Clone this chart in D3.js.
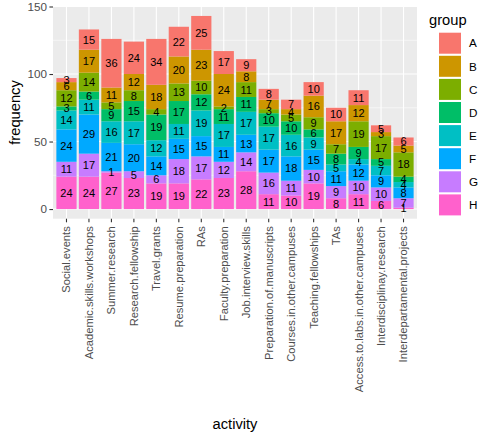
<!DOCTYPE html>
<html>
<head>
<meta charset="utf-8">
<script src="https://cdn.jsdelivr.net/npm/d3@7"></script>
<style>
  body { margin: 0; background: #fff; }
  text { font-family: "Liberation Sans", Arial, sans-serif; }
</style>
</head>
<body>
<svg width="493" height="438"></svg>
<script>
// categories on the x axis
const activities = ["Social.events", "Academic.skills.workshops", "Summer.research",
  "Research.fellowship", "Travel.grants", "Resume.preparation", "RAs",
  "Faculty.preparation", "Job.interview.skills", "Preparation.of.manuscripts",
  "Courses.in.other.campuses", "Teaching.fellowships", "TAs",
  "Access.to.labs.in.other.campuses", "Interdisciplinay.research",
  "Interdepartamental.projects"];

const groups = ["A", "B", "C", "D", "E", "F", "G", "H"];

// one array per group, in the order of activities
const A = [3, 15, 36, 24, 34, 22, 25, 17, 9, 8, 7, 10, 10, 11, 5, 6];
const B = [6, 17, 11, 12, 18, 20, 23, 24, 8, 7, 4, 16, 17, 12, 3, 5];
const C = [12, 14, 5, 8, 4, 13, 10, 2, 11, 3, 5, 9, 7, 19, 17, 18];
const D = [3, 6, 9, 15, 19, 17, 12, 11, 11, 10, 10, 6, 8, 9, 5, 4];
const E = [14, 11, 16, 17, 12, 11, 19, 17, 17, 17, 16, 9, 5, 4, 7, 4];
const F = [24, 29, 21, 20, 14, 15, 15, 11, 13, 17, 18, 15, 11, 12, 9, 8];
const G = [11, 17, 1, 5, 6, 18, 17, 12, 14, 16, 11, 10, 9, 10, 10, 7];
const H = [24, 24, 27, 23, 19, 19, 22, 23, 28, 11, 10, 19, 8, 11, 6, 1];

const yTicks = [0, 50, 100, 150];
const yMinor = [25, 75, 125];

const colors = ["#F8766D", "#CD9600", "#7CAE00", "#00BE67", "#00BFC4", "#00A9FF", "#C77CFF", "#FF61CC"];

// table for the stack
const series = {A, B, C, D, E, F, G, H};
const rows = activities.map((a, i) => {
  const r = {activity: a};
  groups.forEach(g => r[g] = series[g][i]);
  return r;
});

// H at the bottom, A on top
const stacked = d3.stack().keys(groups.slice().reverse())(rows);

const svg = d3.select("svg");
const panel = {left: 53, right: 417, top: 6.3, bottom: 218.7};

const maxTotal = d3.max(rows, r => d3.sum(groups, g => r[g]));
const pad = maxTotal * 0.05;

const x = d3.scaleBand()
  .domain(activities)
  .range([panel.left, panel.right])
  .paddingInner(0.1)
  .paddingOuter(0.15);

const y = d3.scaleLinear()
  .domain([-pad, maxTotal + pad])
  .range([panel.bottom, panel.top]);

const color = d3.scaleOrdinal().domain(groups).range(colors);

// panel
svg.append("rect")
  .attr("x", panel.left).attr("y", panel.top)
  .attr("width", panel.right - panel.left)
  .attr("height", panel.bottom - panel.top)
  .attr("fill", "#EBEBEB");

const grid = svg.append("g");
grid.selectAll(".minor").data(yMinor).join("line")
  .attr("x1", panel.left).attr("x2", panel.right)
  .attr("y1", d => y(d)).attr("y2", d => y(d))
  .attr("stroke", "#fff").attr("stroke-width", 0.55);
grid.selectAll(".major").data(yTicks).join("line")
  .attr("x1", panel.left).attr("x2", panel.right)
  .attr("y1", d => y(d)).attr("y2", d => y(d))
  .attr("stroke", "#fff").attr("stroke-width", 1.1);
grid.selectAll(".vx").data(activities).join("line")
  .attr("x1", d => x(d) + x.bandwidth() / 2).attr("x2", d => x(d) + x.bandwidth() / 2)
  .attr("y1", panel.top).attr("y2", panel.bottom)
  .attr("stroke", "#fff").attr("stroke-width", 1.1);

// bars
const layers = svg.append("g").selectAll("g")
  .data(stacked)
  .join("g")
  .attr("fill", d => color(d.key));

layers.selectAll("rect")
  .data(d => d)
  .join("rect")
  .attr("x", d => x(d.data.activity))
  .attr("width", x.bandwidth())
  .attr("y", d => y(d[1]))
  .attr("height", d => y(d[0]) - y(d[1]));

// value labels
const labels = svg.append("g")
  .style("font-size", "11px")
  .attr("text-anchor", "middle")
  .attr("fill", "#000");
stacked.forEach(layer => {
  labels.selectAll(null)
    .data(layer)
    .join("text")
    .attr("x", d => x(d.data.activity) + x.bandwidth() / 2)
    .attr("y", d => y((d[0] + d[1]) / 2))
    .attr("dy", "0.36em")
    .text(d => d.data[layer.key]);
});

// axes
const yAxis = svg.append("g")
  .attr("transform", `translate(${panel.left},0)`)
  .call(d3.axisLeft(y).tickValues(yTicks).tickSize(3.6).tickPadding(2.5));
yAxis.select(".domain").remove();
yAxis.selectAll("line").attr("stroke", "#333").attr("stroke-width", 1.1);
yAxis.selectAll("text").attr("fill", "#4D4D4D")
  .style("font-size", "11.7px")
  .style("font-family", "'Liberation Sans', Arial, sans-serif");

const xAxis = svg.append("g")
  .attr("transform", `translate(0,${panel.bottom})`)
  .call(d3.axisBottom(x).tickSize(3.6).tickPadding(2.5));
xAxis.select(".domain").remove();
xAxis.selectAll("line").attr("stroke", "#333").attr("stroke-width", 1.1);
xAxis.selectAll("text")
  .attr("fill", "#4D4D4D")
  .style("font-size", "11.2px")
  .style("font-family", "'Liberation Sans', Arial, sans-serif")
  .attr("text-anchor", "end")
  .attr("transform", "rotate(-90)")
  .attr("x", -7.5)
  .attr("y", 0)
  .attr("dy", "0.35em");

// axis titles
svg.append("text")
  .attr("x", (panel.left + panel.right) / 2)
  .attr("y", 429)
  .attr("text-anchor", "middle")
  .style("font-size", "14.7px")
  .text("activity");

svg.append("text")
  .attr("transform", `translate(20,${(panel.top + panel.bottom) / 2}) rotate(-90)`)
  .attr("text-anchor", "middle")
  .style("font-size", "14.7px")
  .text("frequency");

// legend
const legend = svg.append("g").attr("transform", "translate(439,0)");
legend.append("text")
  .attr("x", -10).attr("y", 25)
  .style("font-size", "14.7px")
  .text("group");

const key = legend.selectAll("g")
  .data(groups)
  .join("g")
  .attr("transform", (d, i) => `translate(0,${32.7 + i * 23.1})`);

key.append("rect")
  .attr("width", 22)
  .attr("height", 21)
  .attr("fill", color);

key.append("text")
  .attr("x", 30)
  .attr("y", 10.5)
  .attr("dy", "0.36em")
  .style("font-size", "11.7px")
  .text(d => d);
</script>
</body>
</html>
